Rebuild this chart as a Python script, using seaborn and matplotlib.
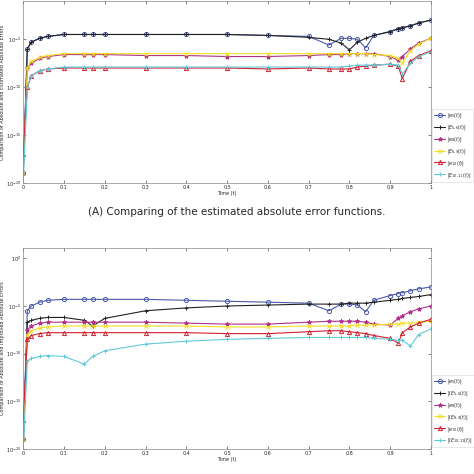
import numpy as np
import pandas as pd
import seaborn as sns
import matplotlib
matplotlib.use("Agg")
import matplotlib.pyplot as plt

t = [0, 0.01, 0.02, 0.04, 0.06, 0.1, 0.15, 0.17, 0.2, 0.3, 0.4, 0.5, 0.6, 0.7, 0.75, 0.78,
     0.8, 0.82, 0.84, 0.86, 0.9, 0.92, 0.93, 0.95, 0.97, 1.0]

# log10 of errors, panel A
a_e5 = [-19, -6, -5.3, -4.9, -4.7, -4.5, -4.5, -4.5, -4.5, -4.5, -4.5, -4.5, -4.6, -4.7, -5.6, -4.9, -4.9, -5.0, -5.9, -4.6, -4.2, -3.9, -3.8, -3.6, -3.3, -3.0]
a_E56 = [-19, -6, -5.3, -4.9, -4.7, -4.5, -4.5, -4.5, -4.5, -4.5, -4.5, -4.5, -4.6, -4.8, -5.0, -5.4, -6.1, -5.3, -4.9, -4.6, -4.2, -3.9, -3.8, -3.6, -3.3, -3.0]
a_e8 = [-19, -8, -7.5, -7.0, -6.8, -6.6, -6.6, -6.6, -6.6, -6.7, -6.7, -6.8, -6.8, -6.7, -6.6, -6.6, -6.5, -6.5, -6.5, -6.5, -6.8, -7.2, -6.8, -6.0, -5.4, -4.9]
a_E89 = [-19, -8, -7.3, -6.9, -6.7, -6.5, -6.5, -6.5, -6.5, -6.5, -6.5, -6.5, -6.5, -6.5, -6.5, -6.5, -6.5, -6.5, -6.5, -6.6, -6.7, -7.0, -7.5, -6.2, -5.5, -4.9]
a_e10 = [-17, -10, -8.8, -8.3, -8.1, -8.0, -8.0, -8.0, -8.0, -8.0, -8.0, -8.0, -8.1, -8.0, -8.1, -8.1, -8.1, -7.9, -7.8, -7.7, -7.6, -7.8, -9.1, -7.3, -6.7, -6.2]
a_E1011 = [-20, -10, -8.8, -8.3, -8.1, -7.9, -7.9, -7.9, -7.9, -7.9, -7.9, -7.9, -7.9, -7.9, -7.9, -7.9, -7.8, -7.7, -7.7, -7.7, -7.6, -7.7, -8.6, -7.5, -6.8, -6.3]

# panel B
b_e5 = [-19, -5.5, -5.0, -4.6, -4.4, -4.3, -4.3, -4.3, -4.3, -4.3, -4.4, -4.5, -4.6, -4.7, -5.5, -4.8, -4.8, -4.9, -5.6, -4.4, -3.9, -3.7, -3.6, -3.4, -3.2, -3.0]
b_E56 = [-20, -6.7, -6.5, -6.3, -6.2, -6.2, -6.5, -7.1, -6.3, -5.5, -5.2, -5.0, -4.9, -4.8, -4.8, -4.8, -4.7, -4.7, -4.7, -4.6, -4.4, -4.3, -4.2, -4.1, -4.0, -3.8]
b_e8 = [-19, -7.5, -7.1, -6.8, -6.7, -6.7, -6.7, -6.7, -6.7, -6.7, -6.8, -6.9, -6.9, -6.7, -6.6, -6.6, -6.6, -6.6, -6.7, -6.9, -7.0, -6.3, -6.0, -5.6, -5.3, -5.0]
b_E89 = [-19, -8, -7.6, -7.3, -7.2, -7.1, -7.1, -7.1, -7.1, -7.1, -7.1, -7.2, -7.2, -7.1, -7.1, -7.1, -7.1, -7.0, -7.0, -7.0, -6.9, -6.9, -6.8, -6.8, -6.7, -6.6]
b_e10 = [-17, -8.5, -8.1, -7.9, -7.8, -7.8, -7.8, -7.8, -7.8, -7.8, -7.8, -7.9, -7.9, -7.7, -7.6, -7.6, -7.7, -7.8, -7.9, -8.1, -8.4, -8.9, -7.8, -7.2, -6.8, -6.4]
b_E1011 = [-20, -10.8, -10.5, -10.3, -10.2, -10.3, -11.1, -10.3, -9.7, -9.0, -8.7, -8.5, -8.4, -8.3, -8.3, -8.3, -8.3, -8.3, -8.3, -8.4, -8.5, -8.6, -8.6, -9.2, -8.0, -7.4]

labels_a = [r"$|e_{5}(t)|$", r"$|E_{5,6}(t)|$", r"$|e_{8}(t)|$", r"$|E_{8,9}(t)|$", r"$|e_{10}(t)|$", r"$|E_{10,11}(t)|$"]
labels_b = [r"$|e_{5}(t)|$", r"$|IE_{5,6}(t)|$", r"$|e_{8}(t)|$", r"$|IE_{8,9}(t)|$", r"$|e_{10}(t)|$", r"$|IE_{10,11}(t)|$"]

styles = [("#4a5aa8", "o", True), ("#222222", "+", False), ("#b0308a", "*", False),
          ("#f0e020", "x", False), ("#d02030", "^", True), ("#60c8d8", "+", False)]

sns.set_style("ticks")
fig = plt.figure(figsize=(4.74, 4.74), dpi=100)
axA = fig.add_axes([0.049, 0.614, 0.86, 0.384])
axB = fig.add_axes([0.049, 0.053, 0.86, 0.424])

def draw(ax, series, labels, ylabel, ytop):
    for vals, lab, (c, m, hollow) in zip(series, labels, styles):
        df = pd.DataFrame({"t": t, "v": 10.0 ** np.array(vals)})
        sns.lineplot(data=df, x="t", y="v", ax=ax, color=c, marker=m, markersize=3,
                     markerfacecolor="none" if hollow else c, markeredgecolor=c,
                     markeredgewidth=0.7, linewidth=0.8, label=lab)
    ax.set_yscale("log")
    ax.set_xlim(0, 1)
    ax.set_ylim(1e-20, ytop)
    ax.set_yticks([v for v in [1e-20, 1e-15, 1e-10, 1e-5, 1e0] if v <= ytop])
    ax.set_xticks(np.arange(0, 1.01, 0.1))
    ax.set_xticklabels(["0", "0.1", "0.2", "0.3", "0.4", "0.5", "0.6", "0.7", "0.8", "0.9", "1"])
    ax.minorticks_off()
    ax.tick_params(labelsize=3.5, length=2, width=0.4, direction="in", top=True, right=True, pad=1.5)
    ax.set_ylabel(ylabel, fontsize=3.5, labelpad=0.5)
    for s in ax.spines.values():
        s.set_linewidth(0.5); s.set_color("#888888")
    leg = ax.legend(loc="lower left", bbox_to_anchor=(1.0, 0.0), fontsize=3.5, frameon=True,
                    fancybox=False, borderpad=0.4, handlelength=2.2, handletextpad=0.4,
                    labelspacing=0.6, borderaxespad=0.3)
    leg.get_frame().set_linewidth(0.4)

draw(axA, [a_e5, a_E56, a_e8, a_E89, a_e10, a_E1011], labels_a,
     "Comparison of Absolute and Estimated Absolute Errors", 10 ** -1.0)
axA.set_xlabel("Time (t)", fontsize=3.5, labelpad=1)
draw(axB, [b_e5, b_E56, b_e8, b_E89, b_e10, b_E1011], labels_b,
     "Comparison of Absolute and Improved Absolute Errors", 10 ** 1.1)
axB.set_xlabel("Time (t)", fontsize=3.5, labelpad=1)

fig.text(0.5, 0.553, "(A) Comparing of the estimated absolute error functions.",
         ha="center", va="center", fontsize=7.5)
fig.savefig("out.png", dpi=100)
